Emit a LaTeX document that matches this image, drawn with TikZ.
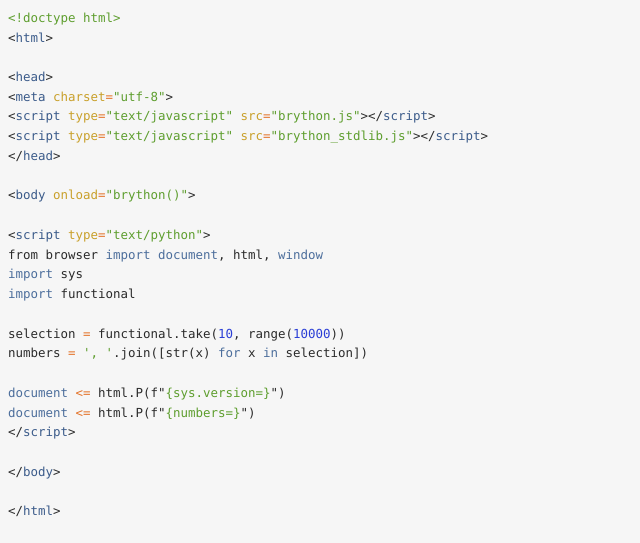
\documentclass[tikz,border=0pt]{standalone}
\usepackage{fontspec}
\newfontfamily\codefont{DejaVu Sans Mono}
\definecolor{bgc}{HTML}{F6F6F6}
\definecolor{txtc}{HTML}{2B2B2B}
\definecolor{tagc}{HTML}{3B5B8A}
\definecolor{attrc}{HTML}{C9A02A}
\definecolor{opc}{HTML}{E4742A}
\definecolor{strc}{HTML}{5E9E2E}
\definecolor{kwc}{HTML}{4C6E9C}
\definecolor{numc}{HTML}{2B3FD6}
\newcommand{\cTag}[1]{\textcolor{tagc}{#1}}
\newcommand{\cAttr}[1]{\textcolor{attrc}{#1}}
\newcommand{\cOp}[1]{\textcolor{opc}{#1}}
\newcommand{\cStr}[1]{\textcolor{strc}{#1}}
\newcommand{\cKw}[1]{\textcolor{kwc}{#1}}
\newcommand{\cNum}[1]{\textcolor{numc}{#1}}
\tikzset{codeline/.style={anchor=base west, inner sep=0pt, text=txtc,
  font=\codefont\fontsize{12.5}{14}\selectfont}}
\begin{document}
\begin{tikzpicture}[x=1bp,y=-1bp]
\fill[bgc] (0,0) rectangle (640,543);
\useasboundingbox (0,0) rectangle (640,543);
\def\lh{19.74}
\def\yb{22.3}
\node[codeline] (l1) at (8,{\yb+0*\lh}) {\cStr{<!doctype html>}};
\node[codeline] (l2) at (8,{\yb+1*\lh}) {<\cTag{html}>};
\node[codeline] (l4) at (8,{\yb+3*\lh}) {<\cTag{head}>};
\node[codeline] (l5) at (8,{\yb+4*\lh}) {<\cTag{meta} \cAttr{charset}\cOp{=}\cStr{"utf-8"}>};
\node[codeline] (l6) at (8,{\yb+5*\lh}) {<\cTag{script} \cAttr{type}\cOp{=}\cStr{"text/javascript"} \cAttr{src}\cOp{=}\cStr{"brython.js"}></\cTag{script}>};
\node[codeline] (l7) at (8,{\yb+6*\lh}) {<\cTag{script} \cAttr{type}\cOp{=}\cStr{"text/javascript"} \cAttr{src}\cOp{=}\cStr{"brython\_stdlib.js"}></\cTag{script}>};
\node[codeline] (l8) at (8,{\yb+7*\lh}) {</\cTag{head}>};
\node[codeline] (l10) at (8,{\yb+9*\lh}) {<\cTag{body} \cAttr{onload}\cOp{=}\cStr{"brython()"}>};
\node[codeline] (l12) at (8,{\yb+11*\lh}) {<\cTag{script} \cAttr{type}\cOp{=}\cStr{"text/python"}>};
\node[codeline] (l13) at (8,{\yb+12*\lh}) {from browser \cKw{import} \cKw{document}, html, \cKw{window}};
\node[codeline] (l14) at (8,{\yb+13*\lh}) {\cKw{import} sys};
\node[codeline] (l15) at (8,{\yb+14*\lh}) {\cKw{import} functional};
\node[codeline] (l17) at (8,{\yb+16*\lh}) {selection \cOp{=} functional.take(\cNum{10}, range(\cNum{10000}))};
\node[codeline] (l18) at (8,{\yb+17*\lh}) {numbers \cOp{=} \cStr{', '}.join([str(x) \cKw{for} x \cKw{in} selection])};
\node[codeline] (l20) at (8,{\yb+19*\lh}) {\cKw{document} \cOp{<=} html.P(f"\cStr{\{sys.version=\}}")};
\node[codeline] (l21) at (8,{\yb+20*\lh}) {\cKw{document} \cOp{<=} html.P(f"\cStr{\{numbers=\}}")};
\node[codeline] (l22) at (8,{\yb+21*\lh}) {</\cTag{script}>};
\node[codeline] (l24) at (8,{\yb+23*\lh}) {</\cTag{body}>};
\node[codeline] (l26) at (8,{\yb+25*\lh}) {</\cTag{html}>};
\end{tikzpicture}
\end{document}
